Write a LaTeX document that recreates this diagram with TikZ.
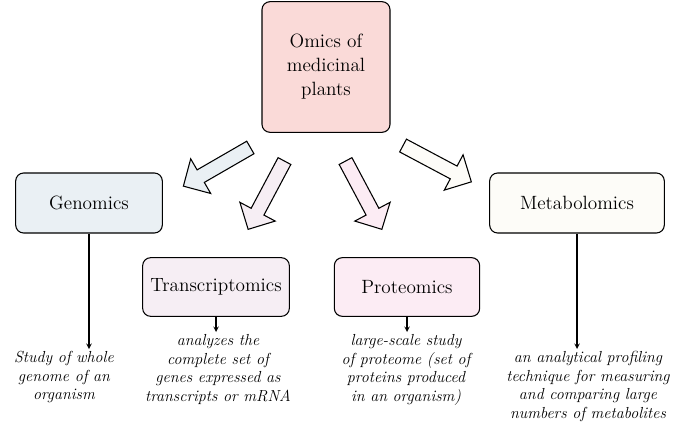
\documentclass[tikz,border=0pt]{standalone}
\usetikzlibrary{shapes.arrows}
\definecolor{topc}{RGB}{250,218,216}
\definecolor{genc}{RGB}{234,240,244}
\definecolor{trac}{RGB}{246,238,244}
\definecolor{proc}{RGB}{252,236,244}
\definecolor{metc}{RGB}{253,252,248}
\tikzset{
  box/.style={draw, thick, rounded corners=6pt, font=\Large},
  fat/.style={single arrow, draw, thick, minimum height=58pt, minimum width=30pt,
    single arrow head extend=6pt, single arrow tip angle=90, inner sep=3pt},
  note/.style={font=\large\itshape, align=center, anchor=north, inner sep=0pt}
}
\begin{document}
\begin{tikzpicture}[x=0.75pt,y=-0.75pt]
\useasboundingbox (0,0) rectangle (685,443);
% boxes
\node[box, fill=topc, minimum width=96pt, minimum height=98pt, align=center] (omics) at (326,67) {Omics of\\medicinal\\plants};
\node[box, fill=genc, minimum width=110pt, minimum height=45pt] (gen) at (89,203) {Genomics};
\node[box, fill=trac, minimum width=110pt, minimum height=44pt] (tra) at (216,287) {Transcriptomics};
\node[box, fill=proc, minimum width=109pt, minimum height=44pt] (pro) at (407,287) {Proteomics};
\node[box, fill=metc, minimum width=131pt, minimum height=45pt] (met) at (577,203) {Metabolomics};
% block arrows
\node[fat, fill=genc, rotate=-150] (a1) at (220,165) {};
\node[fat, fill=trac, rotate=-118] (a2) at (268,192) {};
\node[fat, fill=proc, rotate=-62] (a3) at (362,192) {};
\node[fat, fill=metc, rotate=-28] (a4) at (434,162) {};
% descriptions
\coordinate (g) at (89,349);
\coordinate (t) at (216,332);
\coordinate (p) at (407,332);
\coordinate (m) at (577,349);
\draw[-stealth, thick] (gen) -- (g);
\draw[-stealth, thick] (tra) -- (t);
\draw[-stealth, thick] (pro) -- (p);
\draw[-stealth, thick] (met.south) -- (m);
\node[note] (gt) at (64,351) {Study of whole\\genome of an\\organism};
\node[note] (tt) at (218,334) {analyzes the\\complete set of\\genes expressed as\\transcripts or mRNA};
\node[note] (pt) at (406,334) {large-scale study\\of proteome (set of\\proteins produced\\in an organism)};
\node[note] (mt) at (588,351) {an analytical profiling\\technique for measuring\\and comparing large\\numbers of metabolites};
\end{tikzpicture}
\end{document}
